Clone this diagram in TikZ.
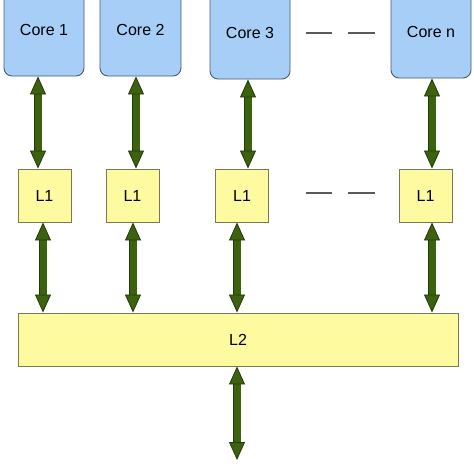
\documentclass[tikz,border=0pt]{standalone}
\usepackage{fontspec}
\setmainfont{Liberation Sans}
\usetikzlibrary{arrows.meta}

\definecolor{corefill}{RGB}{166,206,246}
\definecolor{coreline}{RGB}{72,92,112}
\definecolor{cachefill}{RGB}{253,250,160}
\definecolor{cacheline}{RGB}{122,120,82}
\definecolor{linkgreen}{RGB}{60,98,16}
\definecolor{linkdark}{RGB}{36,58,8}
\definecolor{gapgray}{RGB}{90,90,90}

\tikzset{
  core/.style={draw=coreline, fill=corefill, line width=0.9pt, rounded corners=8pt,
    minimum width=80pt, minimum height=92pt, inner sep=0pt,
    font=\fontsize{16}{18}\selectfont},
  cache/.style={draw=cacheline, fill=cachefill, line width=0.9pt,
    minimum width=53pt, minimum height=53pt, inner sep=0pt,
    font=\fontsize{16}{18}\selectfont},
  link/.style={line width=7pt, draw=linkgreen,
    {Triangle[width=16pt,length=18pt,line width=0.8pt,color=linkdark,fill=linkgreen]}-{Triangle[width=16pt,length=18pt,line width=0.8pt,color=linkdark,fill=linkgreen]},
    preaction={draw=linkdark, line width=8.6pt, -, shorten >=14pt, shorten <=14pt}},
  gap/.style={draw=gapgray, line width=1.1pt}
}

\begin{document}
\begin{tikzpicture}[x=1pt, y=-1pt]

  \clip (0,0) rectangle (474,474);
  \fill[white] (0,0) rectangle (474,474);

  %% cores (tops run off the page)
  \node[core] (c1) at (44,30) {Core 1};
  \node[core, minimum width=81pt] (c2) at (140.5,30) {Core 2};
  \node[core] (c3) at (250,33) {Core 3};
  \node[core] (cn) at (431,32) {Core n};

  %% L1 caches
  \node[cache] (la) at (44.5,195.5) {L1};
  \node[cache] (lb) at (132.5,195.5) {L1};
  \node[cache] (lc) at (242,195.5) {L1};
  \node[cache] (ld) at (425.5,195.5) {L1};

  %% shared L2
  \node[cache, minimum width=440pt] (l2) at (238,339.5) {L2};
  \coordinate (mem) at (237,460);

  %% core <-> L1
  \draw[link] (c1.south -| 38,0) -- (la.north -| 38,0);
  \draw[link] (c2.south -| 136,0) -- (lb.north -| 136,0);
  \draw[link] (c3.south -| 248,0) -- (lc.north -| 248,0);
  \draw[link] (cn.south -| 432,0) -- (ld.north -| 432,0);

  %% L1 <-> L2
  \draw[link] (la.south -| 43,0) -- (l2.north -| 43,0);
  \draw[link] (lb.south -| 133,0) -- (l2.north -| 133,0);
  \draw[link] (lc.south -| 237,0) -- (l2.north -| 237,0);
  \draw[link] (ld.south -| 432,0) -- (l2.north -| 432,0);

  %% L2 <-> below
  \draw[link] (l2.south -| mem) -- (mem);

  %% "..." dashes
  \foreach \y in {33,193} {
    \draw[gap] (306,\y) -- (332,\y);
    \draw[gap] (348,\y) -- (375,\y);
  }

\end{tikzpicture}
\end{document}
